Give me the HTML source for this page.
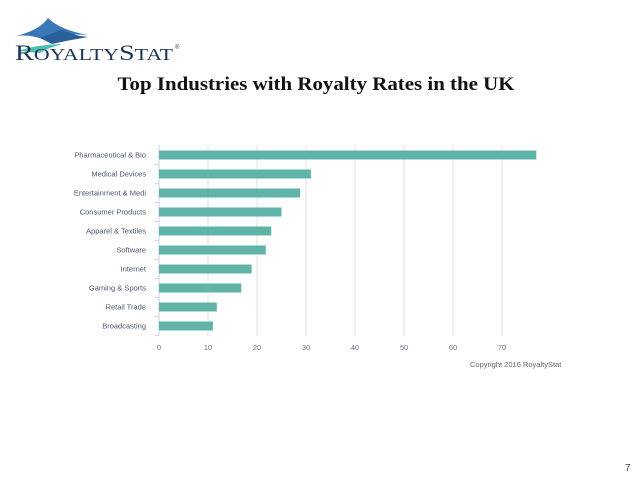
<!DOCTYPE html>
<html><head><meta charset="utf-8"><style>
body{margin:0;background:#fff;width:638px;height:479px;overflow:hidden}
svg{display:block}
</style></head><body>
<svg width="638" height="479" xmlns="http://www.w3.org/2000/svg" font-family="Liberation Sans, sans-serif">
<g>
  <path d="M16,36 Q40,30 48,18 Q60,30 88,35 Q60,33 45,40 Q30,34 16,36Z" fill="#3a78b8"/>
  <path d="M40,38 Q55,32 62,30 Q75,36 88,37 Q70,40 52,44Z" fill="#2a5f9a"/>
  <path d="M18,51 Q40,44 62,44 Q48,48 40,53Z" fill="#4fc0b0"/>
  <text x="15" y="60" font-family="Liberation Serif, serif" font-size="22" fill="#1d3557" textLength="158" lengthAdjust="spacingAndGlyphs">R<tspan font-size="17">OYALTY</tspan>S<tspan font-size="17">TAT</tspan></text>
  <text x="175" y="49" font-size="6" fill="#1d3557">®</text>
</g>
<text x="316" y="90" text-anchor="middle" font-family="Liberation Serif, serif" font-weight="bold" font-size="19" fill="#111" textLength="397" lengthAdjust="spacingAndGlyphs">Top Industries with Royalty Rates in the UK</text>
<g id="chart"></g>
<text x="470" y="367" font-size="7.5" fill="#666">Copyright 2016 RoyaltyStat</text>
<text x="625" y="471" font-size="10" fill="#444">7</text>
</svg>
<script>
const categories=["Pharmaceutical & Bio","Medical Devices","Entertainment & Medi","Consumer Products","Apparel & Textiles","Software","Internet","Gaming & Sports","Retail Trade","Broadcasting"];
const values=[77,31,28.8,25,22.9,21.8,18.9,16.8,11.8,11];
const ticks=[0,10,20,30,40,50,60,70];
const NS="http://www.w3.org/2000/svg";
const g=document.getElementById('chart');
const x0=159,pxPer=4.9,y0=155,step=19,bh=9,yTop=145,yBot=336;
const xs=v=>x0+v*pxPer, ys=i=>y0+i*step;
function mk(t,a,p){const e=document.createElementNS(NS,t);for(const k in a)e.setAttribute(k,a[k]);(p||g).appendChild(e);return e;}
ticks.forEach(t=>{
  if(t>0){const l=mk('line',{x1:xs(t),x2:xs(t),y1:yTop,y2:yBot,stroke:'#e2e2e2','stroke-width':1});
  
  }
  const tx=mk('text',{x:xs(t),y:350,'text-anchor':'middle','font-size':7.5,fill:'#6a7590'});tx.textContent=t;
  
  
});
const ax=mk('line',{x1:x0,x2:x0,y1:yTop,y2:yBot,stroke:'#ccd3dc','stroke-width':1});


categories.forEach((c,i)=>{
  const y=ys(i);
  const tk=mk('line',{x1:x0-4,x2:x0,y1:y+step/2,y2:y+step/2,stroke:'#ccd3dc'});
  
  
  const r=mk('rect',{x:x0,y:y-bh/2,width:xs(values[i])-x0,height:bh,fill:'#5fb3a7'});
  
  
  const t=mk('text',{x:x0-13,y:y+2.5,'text-anchor':'end','font-size':7.5,fill:'#4a5570'});t.textContent=c;
  
  
});
</script>
</body></html>
